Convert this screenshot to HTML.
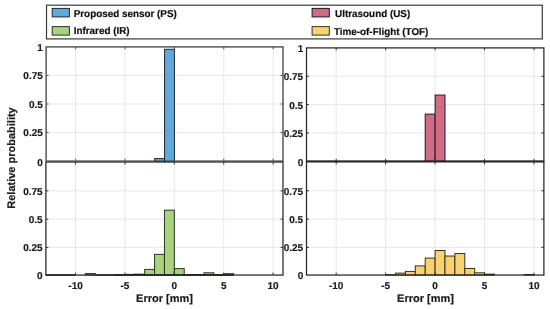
<!DOCTYPE html>
<html><head><meta charset="utf-8"><title>Histogram</title>
<style>
html,body{margin:0;padding:0;background:#fff;}
svg{display:block;}
text{font-family:"Liberation Sans",Arial,Helvetica,sans-serif;font-weight:bold;fill:#1c1c1c;text-rendering:geometricPrecision;stroke:#1c1c1c;stroke-width:0.2px;}
.tk{font-size:10px;}
.lg{font-size:10px;fill:#111;stroke:#111;}
.al{font-size:11px;}
</style></head>
<body>
<svg width="550" height="309" viewBox="0 0 550 309">
<rect width="550" height="309" fill="#fff"/>
<g>
<line x1="75.54" y1="162" x2="75.54" y2="275.05" stroke="#e4e4e4" stroke-width="0.9"/>
<line x1="124.93" y1="162" x2="124.93" y2="275.05" stroke="#e4e4e4" stroke-width="0.9"/>
<line x1="174.33" y1="162" x2="174.33" y2="275.05" stroke="#e4e4e4" stroke-width="0.9"/>
<line x1="223.72" y1="162" x2="223.72" y2="275.05" stroke="#e4e4e4" stroke-width="0.9"/>
<line x1="273.12" y1="162" x2="273.12" y2="275.05" stroke="#e4e4e4" stroke-width="0.9"/>
<line x1="45.9" y1="247.39" x2="283" y2="247.39" stroke="#e4e4e4" stroke-width="0.9"/>
<line x1="45.9" y1="219.12" x2="283" y2="219.12" stroke="#e4e4e4" stroke-width="0.9"/>
<line x1="45.9" y1="190.86" x2="283" y2="190.86" stroke="#e4e4e4" stroke-width="0.9"/>
<rect x="85.42" y="273.58" width="9.88" height="1.47" fill="#a9d27e" stroke="#2b3620" stroke-width="1"/>
<rect x="115.05" y="274.6" width="9.88" height="0.45" fill="#a9d27e" stroke="#2b3620" stroke-width="1"/>
<rect x="124.93" y="274.37" width="9.88" height="0.68" fill="#a9d27e" stroke="#2b3620" stroke-width="1"/>
<rect x="134.81" y="274.15" width="9.88" height="0.9" fill="#a9d27e" stroke="#2b3620" stroke-width="1"/>
<rect x="144.69" y="269.4" width="9.88" height="5.65" fill="#a9d27e" stroke="#2b3620" stroke-width="1"/>
<rect x="154.57" y="254.36" width="9.88" height="20.69" fill="#a9d27e" stroke="#2b3620" stroke-width="1"/>
<rect x="164.45" y="210.16" width="9.88" height="64.89" fill="#a9d27e" stroke="#2b3620" stroke-width="1"/>
<rect x="174.33" y="268.61" width="9.88" height="6.44" fill="#a9d27e" stroke="#2b3620" stroke-width="1"/>
<rect x="184.21" y="274.6" width="9.88" height="0.45" fill="#a9d27e" stroke="#2b3620" stroke-width="1"/>
<rect x="194.09" y="274.6" width="9.88" height="0.45" fill="#a9d27e" stroke="#2b3620" stroke-width="1"/>
<rect x="203.97" y="272.79" width="9.88" height="2.26" fill="#a9d27e" stroke="#2b3620" stroke-width="1"/>
<rect x="213.85" y="274.6" width="9.88" height="0.45" fill="#a9d27e" stroke="#2b3620" stroke-width="1"/>
<rect x="223.72" y="273.69" width="9.88" height="1.36" fill="#a9d27e" stroke="#2b3620" stroke-width="1"/>
<line x1="45.9" y1="275" x2="75.54" y2="275" stroke="#262626" stroke-width="1.6"/>
<line x1="95.3" y1="275" x2="233.6" y2="275" stroke="#262626" stroke-width="1.6"/>
<rect x="45.9" y="162" width="237.1" height="113.05" fill="none" stroke="#262626" stroke-width="1.25"/>
<line x1="75.54" y1="275.05" x2="75.54" y2="272.55" stroke="#262626" stroke-width="0.9"/>
<line x1="75.54" y1="162" x2="75.54" y2="164.5" stroke="#262626" stroke-width="0.9"/>
<line x1="124.93" y1="275.05" x2="124.93" y2="272.55" stroke="#262626" stroke-width="0.9"/>
<line x1="124.93" y1="162" x2="124.93" y2="164.5" stroke="#262626" stroke-width="0.9"/>
<line x1="174.33" y1="275.05" x2="174.33" y2="272.55" stroke="#262626" stroke-width="0.9"/>
<line x1="174.33" y1="162" x2="174.33" y2="164.5" stroke="#262626" stroke-width="0.9"/>
<line x1="223.72" y1="275.05" x2="223.72" y2="272.55" stroke="#262626" stroke-width="0.9"/>
<line x1="223.72" y1="162" x2="223.72" y2="164.5" stroke="#262626" stroke-width="0.9"/>
<line x1="273.12" y1="275.05" x2="273.12" y2="272.55" stroke="#262626" stroke-width="0.9"/>
<line x1="273.12" y1="162" x2="273.12" y2="164.5" stroke="#262626" stroke-width="0.9"/>
<line x1="45.9" y1="247.39" x2="48.4" y2="247.39" stroke="#262626" stroke-width="0.9"/>
<line x1="283" y1="247.39" x2="280.5" y2="247.39" stroke="#262626" stroke-width="0.9"/>
<line x1="45.9" y1="219.12" x2="48.4" y2="219.12" stroke="#262626" stroke-width="0.9"/>
<line x1="283" y1="219.12" x2="280.5" y2="219.12" stroke="#262626" stroke-width="0.9"/>
<line x1="45.9" y1="190.86" x2="48.4" y2="190.86" stroke="#262626" stroke-width="0.9"/>
<line x1="283" y1="190.86" x2="280.5" y2="190.86" stroke="#262626" stroke-width="0.9"/>
<text x="42.6" y="251.29" text-anchor="end" class="tk">0.25</text>
<text x="42.6" y="223.03" text-anchor="end" class="tk">0.5</text>
<text x="42.6" y="194.76" text-anchor="end" class="tk">0.75</text>
<text x="75.54" y="288.65" text-anchor="middle" class="tk">-10</text>
<text x="124.93" y="288.65" text-anchor="middle" class="tk">-5</text>
<text x="174.33" y="288.65" text-anchor="middle" class="tk">0</text>
<text x="223.72" y="288.65" text-anchor="middle" class="tk">5</text>
<text x="273.12" y="288.65" text-anchor="middle" class="tk">10</text>
</g>
<g>
<line x1="336.18" y1="161.9" x2="336.18" y2="275.05" stroke="#e4e4e4" stroke-width="0.9"/>
<line x1="385.63" y1="161.9" x2="385.63" y2="275.05" stroke="#e4e4e4" stroke-width="0.9"/>
<line x1="435.09" y1="161.9" x2="435.09" y2="275.05" stroke="#e4e4e4" stroke-width="0.9"/>
<line x1="484.55" y1="161.9" x2="484.55" y2="275.05" stroke="#e4e4e4" stroke-width="0.9"/>
<line x1="534.01" y1="161.9" x2="534.01" y2="275.05" stroke="#e4e4e4" stroke-width="0.9"/>
<line x1="306.5" y1="247.36" x2="543.9" y2="247.36" stroke="#e4e4e4" stroke-width="0.9"/>
<line x1="306.5" y1="219.08" x2="543.9" y2="219.08" stroke="#e4e4e4" stroke-width="0.9"/>
<line x1="306.5" y1="190.79" x2="543.9" y2="190.79" stroke="#e4e4e4" stroke-width="0.9"/>
<rect x="385.63" y="274.71" width="9.89" height="0.34" fill="#f6d272" stroke="#3b3218" stroke-width="1"/>
<rect x="395.52" y="273.13" width="9.89" height="1.92" fill="#f6d272" stroke="#3b3218" stroke-width="1"/>
<rect x="405.42" y="271.43" width="9.89" height="3.62" fill="#f6d272" stroke="#3b3218" stroke-width="1"/>
<rect x="415.31" y="265.88" width="9.89" height="9.17" fill="#f6d272" stroke="#3b3218" stroke-width="1"/>
<rect x="425.2" y="258.08" width="9.89" height="16.97" fill="#f6d272" stroke="#3b3218" stroke-width="1"/>
<rect x="435.09" y="250.5" width="9.89" height="24.55" fill="#f6d272" stroke="#3b3218" stroke-width="1"/>
<rect x="444.98" y="256.04" width="9.89" height="19.01" fill="#f6d272" stroke="#3b3218" stroke-width="1"/>
<rect x="454.88" y="253.55" width="9.89" height="21.5" fill="#f6d272" stroke="#3b3218" stroke-width="1"/>
<rect x="464.77" y="268.49" width="9.89" height="6.56" fill="#f6d272" stroke="#3b3218" stroke-width="1"/>
<rect x="474.66" y="272.79" width="9.89" height="2.26" fill="#f6d272" stroke="#3b3218" stroke-width="1"/>
<rect x="484.55" y="274.14" width="9.89" height="0.91" fill="#f6d272" stroke="#3b3218" stroke-width="1"/>
<rect x="524.12" y="274.48" width="9.89" height="0.57" fill="#f6d272" stroke="#3b3218" stroke-width="1"/>
<rect x="306.5" y="161.9" width="237.4" height="113.15" fill="none" stroke="#262626" stroke-width="1.25"/>
<line x1="336.18" y1="275.05" x2="336.18" y2="272.55" stroke="#262626" stroke-width="0.9"/>
<line x1="336.18" y1="161.9" x2="336.18" y2="164.4" stroke="#262626" stroke-width="0.9"/>
<line x1="385.63" y1="275.05" x2="385.63" y2="272.55" stroke="#262626" stroke-width="0.9"/>
<line x1="385.63" y1="161.9" x2="385.63" y2="164.4" stroke="#262626" stroke-width="0.9"/>
<line x1="435.09" y1="275.05" x2="435.09" y2="272.55" stroke="#262626" stroke-width="0.9"/>
<line x1="435.09" y1="161.9" x2="435.09" y2="164.4" stroke="#262626" stroke-width="0.9"/>
<line x1="484.55" y1="275.05" x2="484.55" y2="272.55" stroke="#262626" stroke-width="0.9"/>
<line x1="484.55" y1="161.9" x2="484.55" y2="164.4" stroke="#262626" stroke-width="0.9"/>
<line x1="534.01" y1="275.05" x2="534.01" y2="272.55" stroke="#262626" stroke-width="0.9"/>
<line x1="534.01" y1="161.9" x2="534.01" y2="164.4" stroke="#262626" stroke-width="0.9"/>
<line x1="306.5" y1="247.36" x2="309" y2="247.36" stroke="#262626" stroke-width="0.9"/>
<line x1="543.9" y1="247.36" x2="541.4" y2="247.36" stroke="#262626" stroke-width="0.9"/>
<line x1="306.5" y1="219.08" x2="309" y2="219.08" stroke="#262626" stroke-width="0.9"/>
<line x1="543.9" y1="219.08" x2="541.4" y2="219.08" stroke="#262626" stroke-width="0.9"/>
<line x1="306.5" y1="190.79" x2="309" y2="190.79" stroke="#262626" stroke-width="0.9"/>
<line x1="543.9" y1="190.79" x2="541.4" y2="190.79" stroke="#262626" stroke-width="0.9"/>
<text x="303.2" y="251.26" text-anchor="end" class="tk">0.25</text>
<text x="303.2" y="222.98" text-anchor="end" class="tk">0.5</text>
<text x="303.2" y="194.69" text-anchor="end" class="tk">0.75</text>
<text x="336.18" y="288.65" text-anchor="middle" class="tk">-10</text>
<text x="385.63" y="288.65" text-anchor="middle" class="tk">-5</text>
<text x="435.09" y="288.65" text-anchor="middle" class="tk">0</text>
<text x="484.55" y="288.65" text-anchor="middle" class="tk">5</text>
<text x="534.01" y="288.65" text-anchor="middle" class="tk">10</text>
</g>
<g>
<line x1="75.71" y1="46.9" x2="75.71" y2="161.1" stroke="#e4e4e4" stroke-width="0.9"/>
<line x1="125.07" y1="46.9" x2="125.07" y2="161.1" stroke="#e4e4e4" stroke-width="0.9"/>
<line x1="174.42" y1="46.9" x2="174.42" y2="161.1" stroke="#e4e4e4" stroke-width="0.9"/>
<line x1="223.78" y1="46.9" x2="223.78" y2="161.1" stroke="#e4e4e4" stroke-width="0.9"/>
<line x1="273.13" y1="46.9" x2="273.13" y2="161.1" stroke="#e4e4e4" stroke-width="0.9"/>
<line x1="46.1" y1="132.55" x2="283" y2="132.55" stroke="#e4e4e4" stroke-width="0.9"/>
<line x1="46.1" y1="104" x2="283" y2="104" stroke="#e4e4e4" stroke-width="0.9"/>
<line x1="46.1" y1="75.45" x2="283" y2="75.45" stroke="#e4e4e4" stroke-width="0.9"/>
<rect x="46.1" y="46.9" width="236.9" height="114.2" fill="none" stroke="#4c4c4c" stroke-width="1.4"/>
<rect x="154.68" y="158.59" width="9.87" height="2.51" fill="#62a8dc" stroke="#1b2a38" stroke-width="1"/>
<rect x="164.55" y="49.3" width="9.87" height="111.8" fill="#62a8dc" stroke="#1b2a38" stroke-width="1"/>
<line x1="75.71" y1="161.1" x2="75.71" y2="158.6" stroke="#4c4c4c" stroke-width="0.9"/>
<line x1="75.71" y1="46.9" x2="75.71" y2="49.4" stroke="#4c4c4c" stroke-width="0.9"/>
<line x1="125.07" y1="161.1" x2="125.07" y2="158.6" stroke="#4c4c4c" stroke-width="0.9"/>
<line x1="125.07" y1="46.9" x2="125.07" y2="49.4" stroke="#4c4c4c" stroke-width="0.9"/>
<line x1="174.42" y1="161.1" x2="174.42" y2="158.6" stroke="#4c4c4c" stroke-width="0.9"/>
<line x1="174.42" y1="46.9" x2="174.42" y2="49.4" stroke="#4c4c4c" stroke-width="0.9"/>
<line x1="223.78" y1="161.1" x2="223.78" y2="158.6" stroke="#4c4c4c" stroke-width="0.9"/>
<line x1="223.78" y1="46.9" x2="223.78" y2="49.4" stroke="#4c4c4c" stroke-width="0.9"/>
<line x1="273.13" y1="161.1" x2="273.13" y2="158.6" stroke="#4c4c4c" stroke-width="0.9"/>
<line x1="273.13" y1="46.9" x2="273.13" y2="49.4" stroke="#4c4c4c" stroke-width="0.9"/>
<line x1="46.1" y1="132.55" x2="48.6" y2="132.55" stroke="#4c4c4c" stroke-width="0.9"/>
<line x1="283" y1="132.55" x2="280.5" y2="132.55" stroke="#4c4c4c" stroke-width="0.9"/>
<line x1="46.1" y1="104" x2="48.6" y2="104" stroke="#4c4c4c" stroke-width="0.9"/>
<line x1="283" y1="104" x2="280.5" y2="104" stroke="#4c4c4c" stroke-width="0.9"/>
<line x1="46.1" y1="75.45" x2="48.6" y2="75.45" stroke="#4c4c4c" stroke-width="0.9"/>
<line x1="283" y1="75.45" x2="280.5" y2="75.45" stroke="#4c4c4c" stroke-width="0.9"/>
<text x="42.8" y="165.5" text-anchor="end" class="tk">0</text>
<text x="42.8" y="136.45" text-anchor="end" class="tk">0.25</text>
<text x="42.8" y="107.9" text-anchor="end" class="tk">0.5</text>
<text x="42.8" y="79.35" text-anchor="end" class="tk">0.75</text>
<text x="42.8" y="50.8" text-anchor="end" class="tk">1</text>
</g>
<g>
<line x1="336.18" y1="47.9" x2="336.18" y2="161.3" stroke="#e4e4e4" stroke-width="0.9"/>
<line x1="385.63" y1="47.9" x2="385.63" y2="161.3" stroke="#e4e4e4" stroke-width="0.9"/>
<line x1="435.09" y1="47.9" x2="435.09" y2="161.3" stroke="#e4e4e4" stroke-width="0.9"/>
<line x1="484.55" y1="47.9" x2="484.55" y2="161.3" stroke="#e4e4e4" stroke-width="0.9"/>
<line x1="534.01" y1="47.9" x2="534.01" y2="161.3" stroke="#e4e4e4" stroke-width="0.9"/>
<line x1="306.5" y1="132.95" x2="543.9" y2="132.95" stroke="#e4e4e4" stroke-width="0.9"/>
<line x1="306.5" y1="104.6" x2="543.9" y2="104.6" stroke="#e4e4e4" stroke-width="0.9"/>
<line x1="306.5" y1="76.25" x2="543.9" y2="76.25" stroke="#e4e4e4" stroke-width="0.9"/>
<rect x="425.2" y="114.13" width="9.89" height="47.17" fill="#ce6c85" stroke="#2e141a" stroke-width="1"/>
<rect x="435.09" y="95.07" width="9.89" height="66.23" fill="#ce6c85" stroke="#2e141a" stroke-width="1"/>
<line x1="306.5" y1="161.25" x2="543.9" y2="161.25" stroke="#2a2a2a" stroke-width="1.4"/>
<rect x="306.5" y="47.9" width="237.4" height="113.4" fill="none" stroke="#262626" stroke-width="1.25"/>
<line x1="336.18" y1="161.3" x2="336.18" y2="158.8" stroke="#262626" stroke-width="0.9"/>
<line x1="336.18" y1="47.9" x2="336.18" y2="50.4" stroke="#262626" stroke-width="0.9"/>
<line x1="385.63" y1="161.3" x2="385.63" y2="158.8" stroke="#262626" stroke-width="0.9"/>
<line x1="385.63" y1="47.9" x2="385.63" y2="50.4" stroke="#262626" stroke-width="0.9"/>
<line x1="435.09" y1="161.3" x2="435.09" y2="158.8" stroke="#262626" stroke-width="0.9"/>
<line x1="435.09" y1="47.9" x2="435.09" y2="50.4" stroke="#262626" stroke-width="0.9"/>
<line x1="484.55" y1="161.3" x2="484.55" y2="158.8" stroke="#262626" stroke-width="0.9"/>
<line x1="484.55" y1="47.9" x2="484.55" y2="50.4" stroke="#262626" stroke-width="0.9"/>
<line x1="534.01" y1="161.3" x2="534.01" y2="158.8" stroke="#262626" stroke-width="0.9"/>
<line x1="534.01" y1="47.9" x2="534.01" y2="50.4" stroke="#262626" stroke-width="0.9"/>
<line x1="306.5" y1="132.95" x2="309" y2="132.95" stroke="#262626" stroke-width="0.9"/>
<line x1="543.9" y1="132.95" x2="541.4" y2="132.95" stroke="#262626" stroke-width="0.9"/>
<line x1="306.5" y1="104.6" x2="309" y2="104.6" stroke="#262626" stroke-width="0.9"/>
<line x1="543.9" y1="104.6" x2="541.4" y2="104.6" stroke="#262626" stroke-width="0.9"/>
<line x1="306.5" y1="76.25" x2="309" y2="76.25" stroke="#262626" stroke-width="0.9"/>
<line x1="543.9" y1="76.25" x2="541.4" y2="76.25" stroke="#262626" stroke-width="0.9"/>
<text x="303.2" y="165.7" text-anchor="end" class="tk">0</text>
<text x="303.2" y="136.85" text-anchor="end" class="tk">0.25</text>
<text x="303.2" y="108.5" text-anchor="end" class="tk">0.5</text>
<text x="303.2" y="80.15" text-anchor="end" class="tk">0.75</text>
<text x="303.2" y="51.8" text-anchor="end" class="tk">1</text>
</g>
<text x="42.6" y="279.4" text-anchor="end" class="tk">0</text>
<text x="303.2" y="279.4" text-anchor="end" class="tk">0</text>
<rect x="46.5" y="5.2" width="495.8" height="33.7" fill="#fff" stroke="#3a3a3a" stroke-width="1.2"/>
<rect x="52.2" y="8.4" width="17.2" height="8.5" fill="#62a8dc" stroke="#1b2a38" stroke-width="1"/>
<rect x="52.2" y="26.6" width="17.2" height="8.5" fill="#a9d27e" stroke="#2b3620" stroke-width="1"/>
<rect x="312.1" y="8.4" width="17.2" height="8.5" fill="#ce6c85" stroke="#2e141a" stroke-width="1"/>
<rect x="312.1" y="26.6" width="17.2" height="8.5" fill="#f6d272" stroke="#3b3218" stroke-width="1"/>
<text transform="translate(73.7,17.0) scale(0.987,1)" class="lg">Proposed sensor (PS)</text>
<text transform="translate(73.7,34.4) scale(0.987,1)" class="lg">Infrared (IR)</text>
<text transform="translate(335.1,17.0) scale(0.987,1)" class="lg">Ultrasound (US)</text>
<text transform="translate(333.9,34.6) scale(0.987,1)" class="lg">Time-of-Flight (TOF)</text>
<text x="164.5" y="301.8" text-anchor="middle" class="al">Error [mm]</text>
<text x="425.5" y="301.8" text-anchor="middle" class="al">Error [mm]</text>
<text transform="translate(14.6,158) rotate(-90)" text-anchor="middle" class="al">Relative probability</text>
</svg>
</body></html>
